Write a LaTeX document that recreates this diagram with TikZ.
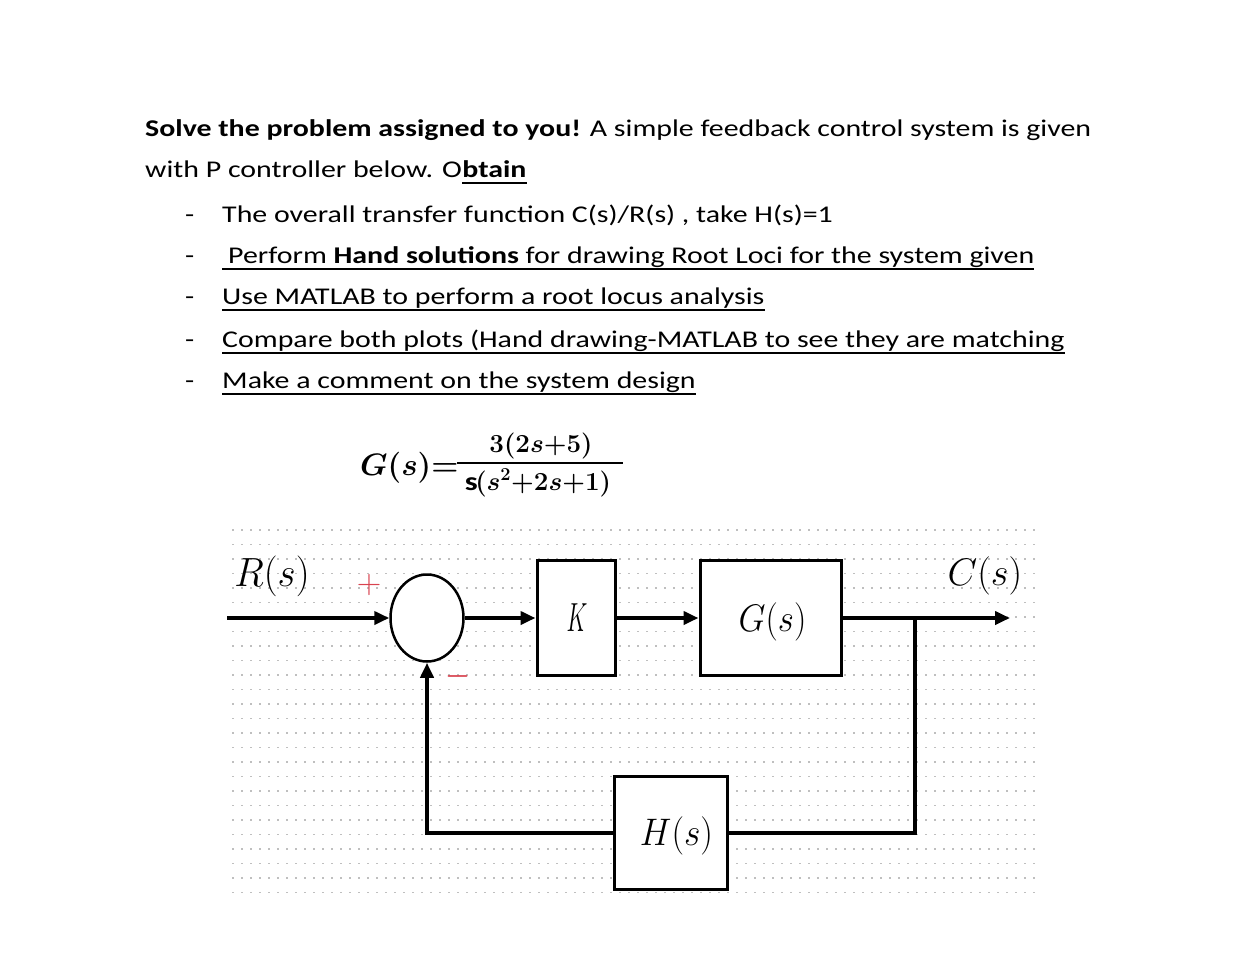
\RequirePackage{fix-cm}
\documentclass[tikz,border=0pt]{standalone}
\usepackage{fontspec}
\setmainfont{Carlito}[FakeStretch=1.245]
\usepackage{bm}
\usetikzlibrary{arrows.meta,shapes.geometric}
\definecolor{signred}{HTML}{D9434F}
\begin{document}
\begin{tikzpicture}[x=1pt,y=-1pt,
  txt/.style={font=\fontsize{24}{28}\selectfont, anchor=base west, inner sep=0pt},
  uline/.style={line width=1.8pt},
  sig/.style={line width=4pt},
  arr/.style={-{Triangle[length=15pt,width=13pt]}},
  blk/.style={draw, line width=3pt, fill=white, inner sep=0pt},
  mlab/.style={font=\fontsize{32}{38}\selectfont, inner sep=0pt},
  bigf/.style={font=\fontsize{31}{36}\selectfont, anchor=base west, inner sep=0pt},
  fracf/.style={font=\fontsize{26}{30}\selectfont, anchor=base, inner sep=0pt},
  griddot/.style={gray!50, line width=1.6pt, dash pattern=on 1.6pt off 7.4pt}
]
\useasboundingbox (0,0) rectangle (1257,953);
\fill[white] (0,0) rectangle (1257,953);

% ---------- text ----------
\node[txt] (l1) at (145,136) {\textbf{Solve the problem assigned to you!} A simple feedback control system is given};
\node[txt] (l2a) at (145,177) {with P controller below. O};
\node[txt] (l2b) at (l2a.base east) {\textbf{btain}};
\draw[uline] ([yshift=-6pt]l2b.base west) -- ([yshift=-6pt]l2b.base east);

\node[txt] (d1) at (185,222) {-};
\node[txt] (d2) at (185,263) {-};
\node[txt] (d3) at (185,304) {-};
\node[txt] (d4) at (185,347) {-};
\node[txt] (d5) at (185,388) {-};
\node[txt] (b1) at (222,222) {The overall transfer function C(s)/R(s) , take H(s)=1};
\node[txt] (b2) at (222,263) {\hspace*{6pt}Perform \textbf{Hand solutions} for drawing Root Loci for the system given};
\node[txt] (b3) at (222,304) {Use MATLAB to perform a root locus analysis};
\node[txt] (b4) at (222,347) {Compare both plots (Hand drawing-MATLAB to see they are matching};
\node[txt] (b5) at (222,388) {Make a comment on the system design};
\draw[uline] ([yshift=-6pt]b2.base west) -- ([yshift=-6pt]b2.base east);
\draw[uline] ([yshift=-6pt]b3.base west) -- ([yshift=-6pt]b3.base east);
\draw[uline] ([yshift=-6pt]b4.base west) -- ([yshift=-6pt]b4.base east);
\draw[uline] ([yshift=-6pt]b5.base west) -- ([yshift=-6pt]b5.base east);

% ---------- formula ----------
\node[bigf] (geq) at (360,475) {$\bm{G(s){=}}$};
\node[fracf] (num) at (541,452) {$\bm{3(2s{+}5)}$};
\node[fracf] (den) at (538,490) {$\bm{\mathrm{s}(s^{2}{+}2s{+}1)}$};
\draw[line width=2.5pt] (457,463) -- (623,463);

% ---------- dotted background ----------
\foreach \r in {0,...,25}{
  \draw[griddot] (232,530+\r*14.5) -- (1038,530+\r*14.5);
}

% ---------- block diagram ----------
\coordinate (in) at (227,618);
\coordinate (out) at (1010,618);
\coordinate (br) at (915,618);
\node[ellipse, draw, line width=2.5pt, fill=white, minimum width=73pt, minimum height=87pt, inner sep=0pt] (sum) at (427,618) {};
\node[blk, minimum width=78pt, minimum height=115pt] (K) at (576,618) {};
\node[mlab] (Kl) at ([xshift=1pt]K.center) {\scalebox{0.72}[1.27]{$K$}};
\node[blk, minimum width=141pt, minimum height=115pt] (G) at (770.5,618) {};
\node[mlab] (Gl) at ([xshift=2pt,yshift=-4pt]G.center) {\scalebox{1.09}[1.2]{$G(s)$}};
\node[blk, minimum width=113pt, minimum height=113pt] (H) at (670.5,832.5) {};
\node[mlab] (Hl) at ([xshift=6pt,yshift=-3pt]H.center) {\scalebox{1.11}[1.2]{$H(s)$}};

\node[mlab] (R) at (272,576) {\scalebox{1.15}[1.2]{\fontsize{34}{40}\selectfont$R(s)$}};
\node[mlab] (C) at (985,576) {\scalebox{1.2}[1.2]{$C(s)$}};
\node[font=\fontsize{34}{38}\selectfont, text=signred, inner sep=0pt] (plus) at (369,585) {$+$};
\node[font=\fontsize{28}{32}\selectfont, text=signred, inner sep=0pt] (minus) at (458,676) {$\bm{-}$};

\draw[sig,arr] (in) -- (sum.west);
\draw[sig,arr] (sum.east) -- (K.west);
\draw[sig,arr] (K.east) -- (G.west);
\draw[sig,arr] (G.east) -- (out);
\draw[sig] (br) |- (H.east);
\draw[sig,arr] (H.west) -| (sum.south);
\end{tikzpicture}
\end{document}
